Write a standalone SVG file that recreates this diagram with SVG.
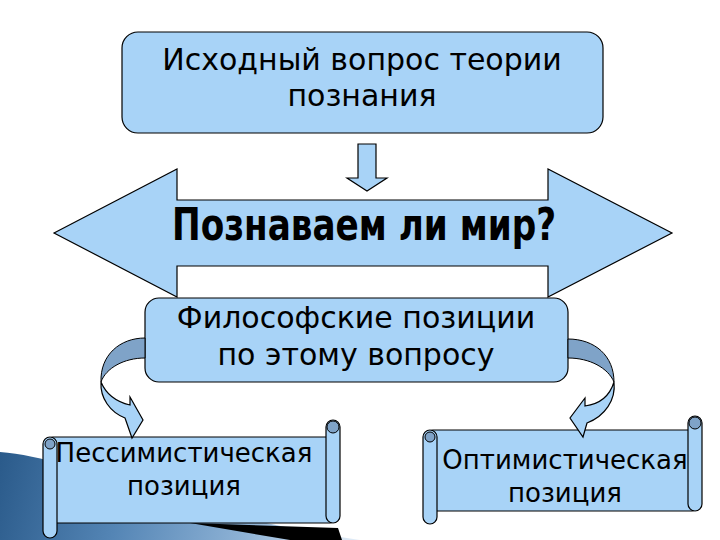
<svg xmlns="http://www.w3.org/2000/svg" width="720" height="540" viewBox="0 0 720 540">
<defs>
<style>
.box{fill:#a8d3f7;stroke:#000;stroke-width:1.2}
.dark{fill:#7fa3c8;stroke:#000;stroke-width:1}
.t{font-family:"DejaVu Sans","Noto Sans",sans-serif;fill:#000;text-anchor:middle}
.t30{font-size:30px}
.t26{font-size:26px}
.big{font-family:"DejaVu Sans Condensed","DejaVu Sans",sans-serif;font-weight:bold;font-size:44px;fill:#000;text-anchor:middle}
</style>
<linearGradient id="deco" x1="0" y1="450" x2="360" y2="540" gradientUnits="userSpaceOnUse">
<stop offset="0" stop-color="#2a5a8a"/>
<stop offset="0.35" stop-color="#5485b5"/>
<stop offset="0.7" stop-color="#8fb3d6"/>
<stop offset="1" stop-color="#e4eef8"/>
</linearGradient>
</defs>
<rect width="720" height="540" fill="#fff"/>
<g id="decoration">
<path d="M0,452 C40,455 90,472 150,492 C220,514 290,530 360,540 L0,540 Z" fill="url(#deco)"/>
<path d="M190,523 L338,528 L342,540 L290,540 Z" fill="#000"/>
</g>
<g id="node-question">
<rect class="box" x="122" y="32" width="481" height="101" rx="16"/>
<text class="t t30" x="362" y="70">Исходный вопрос теории</text>
<text class="t t30" x="362" y="106">познания</text>
</g>
<g id="node-world">
<path class="box" d="M54,233 L177,169 L177,200 L548,200 L548,169 L672,233 L548,297 L548,266 L177,266 L177,297 Z"/>
<text class="big" x="364" y="240" textLength="384" lengthAdjust="spacingAndGlyphs">Познаваем ли мир?</text>
</g>
<g id="node-positions">
<rect class="box" x="145" y="298" width="423" height="84" rx="14"/>
<text class="t t30" x="356" y="328">Философские позиции</text>
<text class="t t30" x="356" y="365">по этому вопросу</text>
</g>
<g id="node-pessimistic">
<rect class="box" x="50" y="437" width="283" height="86" rx="3"/>
<rect class="box" x="326" y="420" width="14" height="103" rx="7"/>
<circle class="dark" cx="333" cy="427" r="6"/>
<rect class="box" x="43" y="437" width="14" height="101" rx="7"/>
<circle class="dark" cx="50" cy="444" r="5"/>
<text class="t t26" x="184" y="462">Пессимистическая</text>
<text class="t t26" x="184" y="495">позиция</text>
</g>
<g id="node-optimistic">
<rect class="box" x="430" y="430" width="265" height="81" rx="3"/>
<rect class="box" x="688" y="416" width="14" height="95" rx="7"/>
<circle class="dark" cx="695" cy="423" r="6"/>
<rect class="box" x="423" y="430" width="14" height="94" rx="7"/>
<circle class="dark" cx="430" cy="437" r="5"/>
<text class="t t26" x="565" y="469">Оптимистическая</text>
<text class="t t26" x="565" y="502">позиция</text>
</g>
<g id="connectors">
<path class="box" d="M358,144 L376,144 L376,178 L387,178 L367,191 L347,178 L358,178 Z"/>
<path class="dark" d="M145,338 C120,338 100,355 101,382 C106,368 124,358 145,358 Z"/>
<path class="box" d="M101,382 C100,398 110,412 125,418 L132,438 L143,420 L130,397 L130,405 C117,402 106,394 101,382 Z"/>
<path class="dark" d="M568,339 C595,339 614,356 614,382 C608,368 590,358 568,358 Z"/>
<path class="box" d="M614,382 C616,400 605,416 587,423 L583,437 L570,418 L585,398 L585,406 C600,404 610,395 614,382 Z"/>
</g>
</svg>
